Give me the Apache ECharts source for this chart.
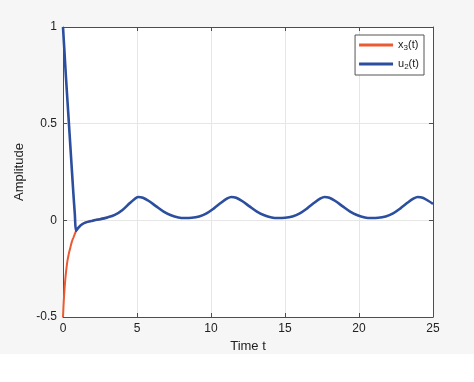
<!DOCTYPE html>
<html>
<head>
<meta charset="utf-8">
<script src="https://cdn.jsdelivr.net/npm/echarts@6/dist/echarts.min.js"></script>
<style>html,body{margin:0;padding:0;background:#fff;}#c{width:474px;height:382px;}</style>
</head>
<body>
<div id="c"></div>
<script>
// Time samples and values
const timeU = [0,0.1,0.2,0.3,0.4,0.5,0.6,0.7,0.8,0.88,1.0,1.2,1.5,2.0,2.5,3.0,3.5,4.0,4.5,4.8,5.07,5.4,5.8,6.3,6.8,7.3,7.8,8.2,8.7,9.2,9.7,10.2,10.7,11.1,11.37,11.7,12.1,12.6,13.1,13.6,14.1,14.5,15.0,15.5,16.0,16.5,17.0,17.4,17.67,18.0,18.4,18.9,19.4,19.9,20.4,20.8,21.3,21.8,22.3,22.8,23.3,23.7,23.96,24.3,24.7,25.0];
const u2 = [1.0,0.87,0.74,0.62,0.5,0.38,0.26,0.14,0.03,-0.055,-0.042,-0.025,-0.012,-0.002,0.006,0.015,0.028,0.052,0.088,0.108,0.121,0.117,0.1,0.072,0.045,0.026,0.015,0.012,0.013,0.02,0.036,0.062,0.092,0.113,0.121,0.117,0.1,0.072,0.045,0.026,0.015,0.012,0.013,0.02,0.036,0.062,0.092,0.113,0.121,0.117,0.1,0.072,0.045,0.026,0.015,0.012,0.013,0.02,0.036,0.062,0.092,0.113,0.121,0.117,0.1,0.085];
const timeX = [0,0.05,0.1,0.15,0.2,0.3,0.4,0.5,0.6,0.7,0.8,0.88,1.0,1.2,1.5,2.0,2.5,3.0];
const x3 = [-0.5,-0.42,-0.36,-0.31,-0.27,-0.21,-0.17,-0.14,-0.11,-0.09,-0.07,-0.055,-0.042,-0.025,-0.012,-0.002,0.006,0.015];
const xTicks = [0,5,10,15,20,25];
const yTicks = [-0.5,0,0.5,1];
const seriesNames = ['x3(t)','u2(t)'];

const pairs = (t, v) => t.map((x, i) => [x, v[i]]);
const font = 'Liberation Sans, Arial, Helvetica, sans-serif';
const axisCol = '#4d4d4d';

const chart = echarts.init(document.getElementById('c'), null, {renderer: 'canvas'});
chart.setOption({
  backgroundColor: '#ffffff',
  animation: false,
  graphic: [{type: 'rect', z: -10, shape: {x: 0, y: 0, width: 474, height: 354}, style: {fill: '#f6f6f6'}}],
  grid: {left: 63, right: 41, top: 27, bottom: 65, show: true, backgroundColor: '#ffffff', borderWidth: 0},
  legend: {
    data: seriesNames, orient: 'vertical', right: 50, top: 35,
    backgroundColor: '#fff', borderColor: '#555', borderWidth: 1, padding: [4, 5, 4, 4],
    itemWidth: 34, itemHeight: 3, itemGap: 6, icon: 'rect',
    textStyle: {fontFamily: font, fontSize: 11, color: '#222',
      rich: {a: {fontFamily: font, fontSize: 11, color: '#222', lineHeight: 14},
             s: {fontFamily: font, fontSize: 8, color: '#222', lineHeight: 14, verticalAlign: 'bottom', padding: [5, 0, 0, 0]}}},
    formatter: n => n === 'x3(t)' ? '{a|x}{s|3}{a|(t)}' : '{a|u}{s|2}{a|(t)}'
  },
  xAxis: [{
    type: 'value', min: 0, max: 25, interval: 5,
    name: 'Time t', nameLocation: 'middle', nameGap: 23,
    nameTextStyle: {fontFamily: font, fontSize: 13, color: '#222'},
    axisLine: {show: true, onZero: false, lineStyle: {color: axisCol, width: 1}},
    axisTick: {show: true, inside: true, length: 4, lineStyle: {color: axisCol}},
    axisLabel: {fontFamily: font, fontSize: 12, color: '#222', margin: 6},
    splitLine: {show: true, lineStyle: {color: '#e6e6e6', width: 1}}
  }, {
    type: 'value', min: 0, max: 25, interval: 5, position: 'top',
    axisLine: {show: true, onZero: false, lineStyle: {color: axisCol, width: 1}},
    axisTick: {show: true, inside: true, length: 4, lineStyle: {color: axisCol}},
    axisLabel: {show: false}, splitLine: {show: false}
  }],
  yAxis: [{
    type: 'value', min: -0.5, max: 1, interval: 0.5,
    name: 'Amplitude', nameLocation: 'middle', nameGap: 30, nameRotate: 90,
    nameTextStyle: {fontFamily: font, fontSize: 13, color: '#222'},
    axisLine: {show: true, onZero: false, lineStyle: {color: axisCol, width: 1}},
    axisTick: {show: true, inside: true, length: 4, lineStyle: {color: axisCol}},
    axisLabel: {fontFamily: font, fontSize: 12, color: '#222', margin: 6},
    splitLine: {show: true, lineStyle: {color: '#e6e6e6', width: 1}}
  }, {
    type: 'value', min: -0.5, max: 1, interval: 0.5, position: 'right',
    axisLine: {show: true, onZero: false, lineStyle: {color: axisCol, width: 1}},
    axisTick: {show: true, inside: true, length: 4, lineStyle: {color: axisCol}},
    axisLabel: {show: false}, splitLine: {show: false}
  }],
  series: [
    {name: seriesNames[0], type: 'line', data: pairs(timeX, x3), showSymbol: false, smooth: 0.3,
     lineStyle: {color: '#ea5a33', width: 2}, itemStyle: {color: '#ea5a33'}, z: 2},
    {name: seriesNames[1], type: 'line', data: pairs(timeU, u2), showSymbol: false, smooth: 0.3,
     lineStyle: {color: '#2b4e9e', width: 2.6}, itemStyle: {color: '#2b4e9e'}, z: 3}
  ]
});
</script>
</body>
</html>
